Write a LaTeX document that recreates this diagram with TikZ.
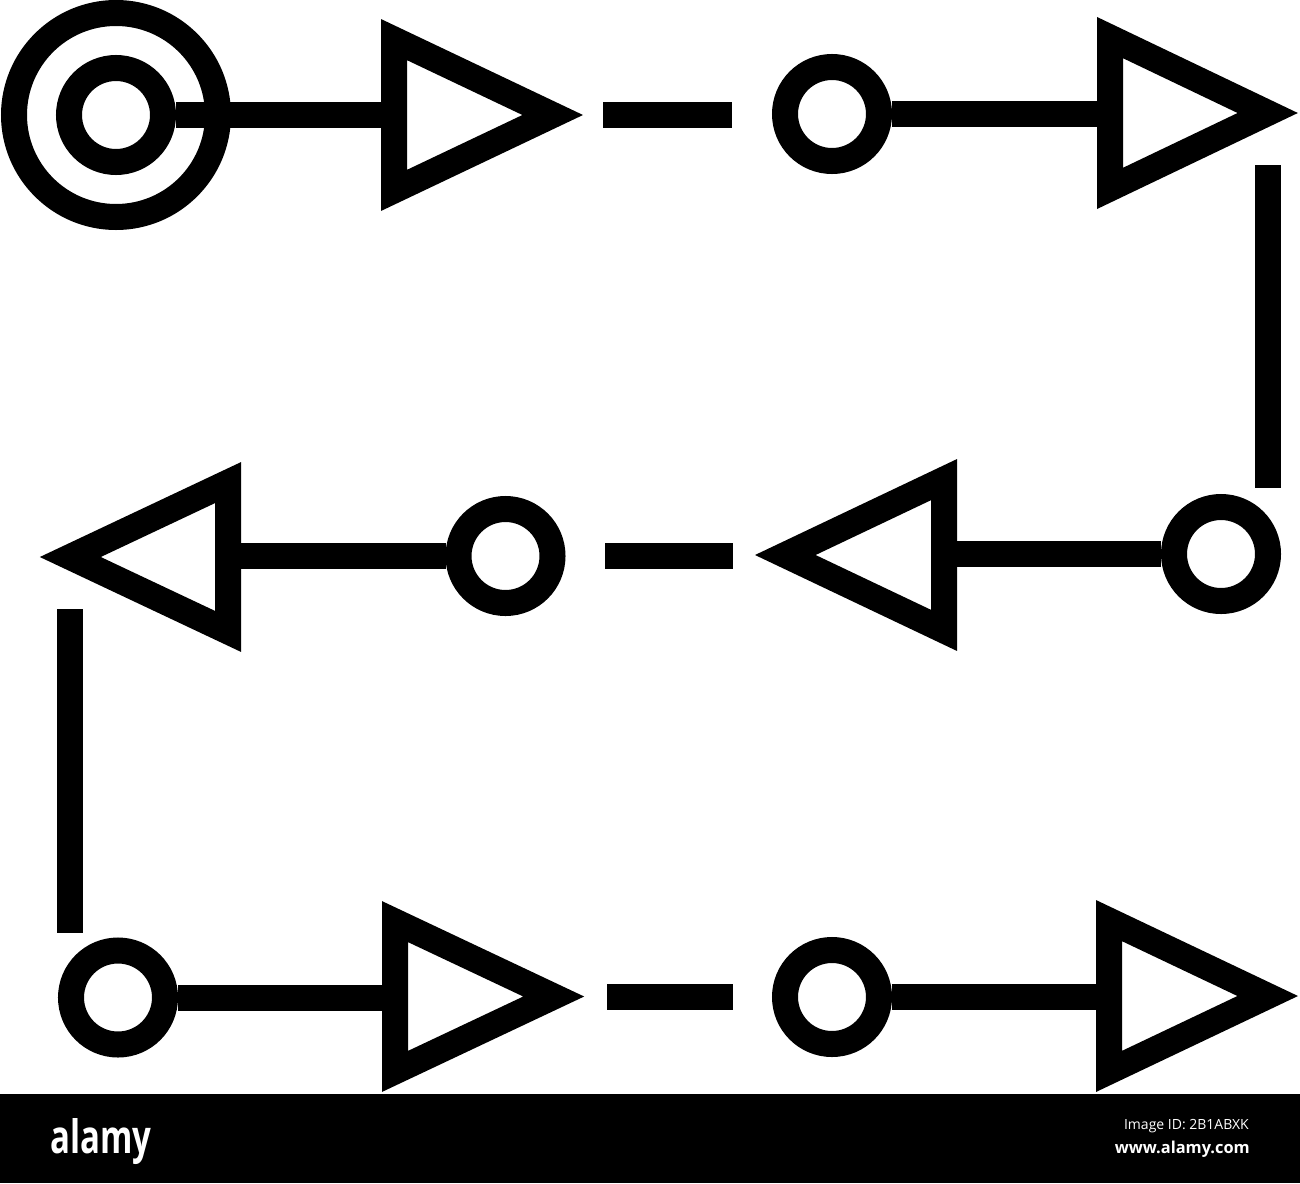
\documentclass[tikz,border=0pt]{standalone}
\usepackage{fontspec}
\setmainfont{Open Sans}
\usepackage{graphicx}
\begin{document}
\begin{tikzpicture}[x=1pt,y=-1pt,
  ring/.style={circle, draw=black, line width=26pt, inner sep=0pt, minimum size=94pt},
  bigring/.style={circle, draw=black, line width=26pt, inner sep=0pt, minimum size=204pt},
  conn/.style={draw=black, line width=26pt},
  bar/.style={draw=black, line width=26pt, line cap=butt},
  tri/.style={draw=black, line width=26pt, line join=miter, miter limit=10},
  wm/.style={text=white, inner sep=0pt}]
\useasboundingbox (0,0) rectangle (1300,1183);
\fill[white] (0,0) rectangle (1300,1183);

% ---- row 1 ----
\node[bigring] (c0out) at (116,115) {};
\node[ring] (c0) at (116,115) {};
\draw[tri] (394,39.6) -- (394,190.4) -- (552.7,115) -- cycle;
\coordinate (t1) at (394,115);
\draw[conn] (c0.east) -- (c0.east -| t1);
\draw[bar] (603,114.5) -- (732,114.5);
\node[ring] (c2) at (832,114) {};
\draw[tri] (1110,37.6) -- (1110,188.4) -- (1267.7,113) -- cycle;
\coordinate (t2) at (1110,113);
\draw[conn] (c2.east) -- (c2.east -| t2);
\draw[bar] (1268,165) -- (1268,488);

% ---- row 2 ----
\node[ring] (c3) at (1221,554) {};
\draw[tri] (944,479.6) -- (944,630.4) -- (785.3,555) -- cycle;
\coordinate (t3) at (944,555);
\draw[conn] (c3.west) -- (c3.west -| t3);
\draw[bar] (605,556) -- (733,556);
\node[ring] (c4) at (505.5,556) {};
\draw[tri] (228,482.6) -- (228,631.4) -- (70.3,557) -- cycle;
\coordinate (t4) at (228,557);
\draw[conn] (c4.west) -- (c4.west -| t4);
\draw[bar] (70,609) -- (70,933);

% ---- row 3 ----
\node[ring] (c5) at (118,997.5) {};
\draw[tri] (395,921.6) -- (395,1071.4) -- (553.7,996.5) -- cycle;
\coordinate (t5) at (395,997);
\draw[conn] (c5.east) -- (c5.east -| t5);
\draw[bar] (607,997) -- (733,997);
\node[ring] (c6) at (832,997) {};
\draw[tri] (1109,920.6) -- (1109,1071.4) -- (1267.7,996) -- cycle;
\coordinate (t6) at (1109,996);
\draw[conn] (c6.east) -- (c6.east -| t6);

% ---- footer bar ----
\fill[black] (0,1094) rectangle (1300,1183);
\node[wm, anchor=base west] (logo) at (50,1153) {\resizebox{101pt}{35pt}{\bfseries alamy}};
\node[wm, anchor=base east, font=\fontsize{14pt}{16pt}\selectfont] (imgid) at (1249,1129) {Image ID: 2B1ABXK};
\node[wm, anchor=base east] (url) at (1250,1153) {\resizebox{135pt}{!}{\bfseries www.alamy.com}};
\end{tikzpicture}
\end{document}
